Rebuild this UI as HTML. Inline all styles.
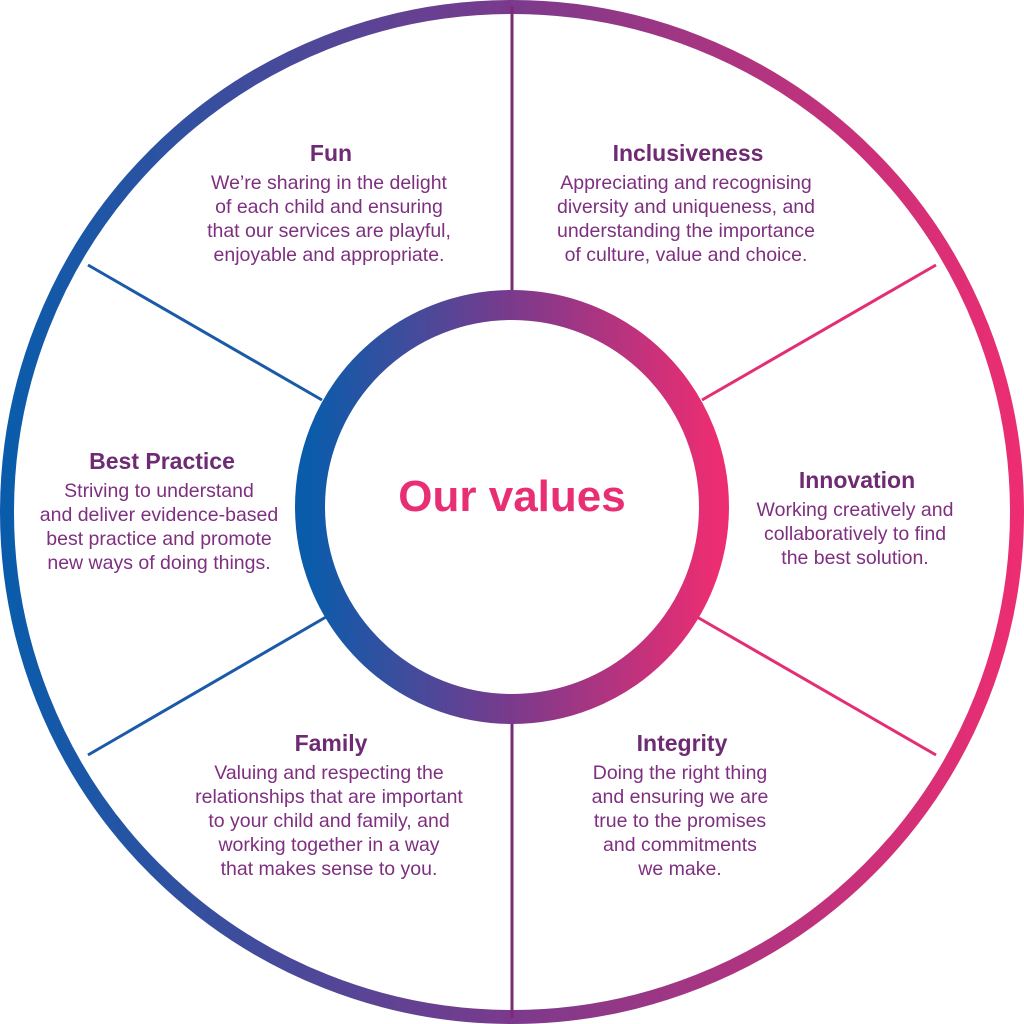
<!DOCTYPE html>
<html><head><meta charset="utf-8"><style>
html,body{margin:0;padding:0;background:#fff;}
svg{display:block}
.t{font-family:"Liberation Sans",sans-serif;font-weight:bold;font-size:23px;fill:#6e2a72;text-anchor:middle}
.b{font-family:"Liberation Sans",sans-serif;font-size:19.5px;fill:#7e2f80;text-anchor:middle}
</style></head><body>
<svg width="1024" height="1024" viewBox="0 0 1024 1024">
<defs>
<linearGradient id="g" x1="0" y1="0" x2="1" y2="0">
<stop offset="0" stop-color="#0a5cab"/>
<stop offset="0.5" stop-color="#7b3a8c"/>
<stop offset="1" stop-color="#ec2d72"/>
</linearGradient>
</defs>
<circle cx="512" cy="512" r="505" fill="none" stroke="url(#g)" stroke-width="14"/>
<line x1="512" y1="6" x2="512" y2="292" stroke="#7a2a7a" stroke-width="3"/>
<line x1="512" y1="722" x2="512" y2="1018" stroke="#7a2a7a" stroke-width="3"/>
<line x1="88" y1="265" x2="322" y2="400" stroke="#1a5aa8" stroke-width="3"/>
<line x1="88" y1="755" x2="326" y2="617" stroke="#1a5aa8" stroke-width="3"/>
<line x1="702" y1="400" x2="936" y2="265" stroke="#e42e74" stroke-width="3"/>
<line x1="697" y1="617" x2="936" y2="755" stroke="#e42e74" stroke-width="3"/>
<circle cx="512" cy="507" r="202" fill="#fff" stroke="url(#g)" stroke-width="30"/>
<text x="512" y="511" text-anchor="middle" font-family="Liberation Sans,sans-serif" font-weight="bold" font-size="44" fill="#e82f74">Our values</text>

<text class="t" x="331" y="161">Fun</text>
<text class="b"><tspan x="329" y="189">We’re sharing in the delight</tspan><tspan x="329" y="213">of each child and ensuring</tspan><tspan x="329" y="237">that our services are playful,</tspan><tspan x="329" y="261">enjoyable and appropriate.</tspan></text>

<text class="t" x="688" y="161">Inclusiveness</text>
<text class="b"><tspan x="686" y="189">Appreciating and recognising</tspan><tspan x="686" y="213">diversity and uniqueness, and</tspan><tspan x="686" y="237">understanding the importance</tspan><tspan x="686" y="261">of culture, value and choice.</tspan></text>

<text class="t" x="162" y="469">Best Practice</text>
<text class="b"><tspan x="159" y="497">Striving to understand</tspan><tspan x="159" y="521">and deliver evidence-based</tspan><tspan x="159" y="545">best practice and promote</tspan><tspan x="159" y="569">new ways of doing things.</tspan></text>

<text class="t" x="857" y="488">Innovation</text>
<text class="b"><tspan x="855" y="516">Working creatively and</tspan><tspan x="855" y="540">collaboratively to find</tspan><tspan x="855" y="564">the best solution.</tspan></text>

<text class="t" x="331" y="751">Family</text>
<text class="b"><tspan x="329" y="779">Valuing and respecting the</tspan><tspan x="329" y="803">relationships that are important</tspan><tspan x="329" y="827">to your child and family, and</tspan><tspan x="329" y="851">working together in a way</tspan><tspan x="329" y="875">that makes sense to you.</tspan></text>

<text class="t" x="682" y="751">Integrity</text>
<text class="b"><tspan x="680" y="779">Doing the right thing</tspan><tspan x="680" y="803">and ensuring we are</tspan><tspan x="680" y="827">true to the promises</tspan><tspan x="680" y="851">and commitments</tspan><tspan x="680" y="875">we make.</tspan></text>
</svg>
</body></html>
